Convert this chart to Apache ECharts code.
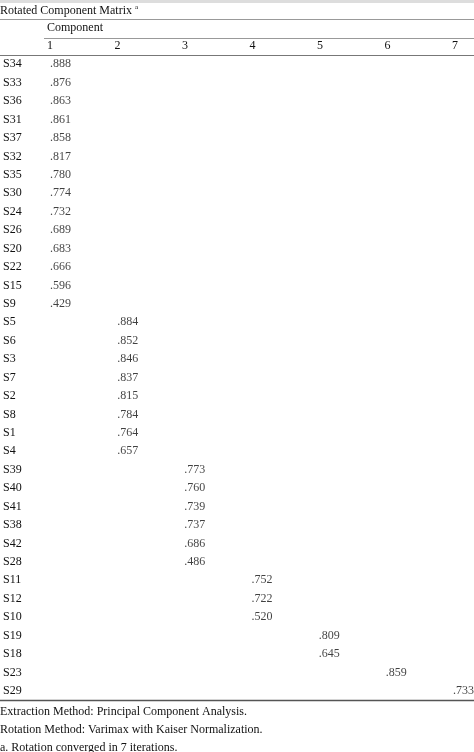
<!DOCTYPE html><html><head><meta charset="utf-8">
<script src="https://cdn.jsdelivr.net/npm/echarts@6/dist/echarts.min.js"></script>
<style>html,body{margin:0;padding:0;background:#fff}#c{width:474px;height:752px}</style></head><body><div id="c"></div>
<script>
const rows = ['S34','S33','S36','S31','S37','S32','S35','S30','S24','S26','S20','S22','S15','S9',
 'S5','S6','S3','S7','S2','S8','S1','S4',
 'S39','S40','S41','S38','S42','S28',
 'S11','S12','S10','S19','S18','S23','S29'];
const component = [1,1,1,1,1,1,1,1,1,1,1,1,1,1, 2,2,2,2,2,2,2,2, 3,3,3,3,3,3, 4,4,4, 5,5, 6, 7];
const loadings = ['.888','.876','.863','.861','.858','.817','.780','.774','.732','.689','.683','.666','.596','.429',
 '.884','.852','.846','.837','.815','.784','.764','.657',
 '.773','.760','.739','.737','.686','.486',
 '.752','.722','.520','.809','.645','.859','.733'];
const headers = ['1','2','3','4','5','6','7'];
const F = 'Liberation Serif';
const data = rows.map((r,i)=>[component[i]-1, r, loadings[i]]);
const chart = echarts.init(document.getElementById('c'));
const txt=(x,y,t,sz)=>({type:'text',left:x,top:y,style:{text:t,font:(sz||12)+'px "'+F+'"',fill:'#111'}});
const ln=(x1,y,x2,c,w)=>({type:'line',shape:{x1:x1,y1:y,x2:x2,y2:y},style:{stroke:c||'#777',lineWidth:w||1}});
const g=[
  {type:'rect',shape:{x:0,y:0,width:474,height:3},style:{fill:'#ddd'}},
  txt(0,5,'Rotated Component Matrix'),
  {type:'text',left:135,top:4,style:{text:'a',font:'7px "'+F+'"',fill:'#111'}},
  ln(0,19.5,474,'#999'),
  txt(47,22,'Component'),
  ln(44,38.5,474,'#999'),
  ln(0,55.5,474,'#777'),
  ln(0,700.5,474,'#555',1.5),
  txt(0,706,'Extraction Method: Principal Component Analysis.'),
  txt(0,724,'Rotation Method: Varimax with Kaiser Normalization.'),
  txt(0,742,'a. Rotation converged in 7 iterations.')
];
headers.forEach((h,i)=>g.push(txt(47+i*67.5,40,h)));
chart.setOption({
  animation:false,
  grid:{left:47,right:474-(47+6*67.5)-1,top:55,bottom:52},
  xAxis:{type:'value',min:0,max:6,show:false},
  yAxis:{type:'category',data:rows,inverse:true,axisLine:{show:false},axisTick:{show:false},
    axisLabel:{align:'left',margin:47,fontFamily:F,fontSize:12,color:'#111'}},
  series:[{type:'scatter',data:data,symbolSize:0,encode:{x:0,y:1},
    label:{show:true,position:'right',distance:0,formatter:p=>p.value[2],fontFamily:F,fontSize:12,color:'#111'}}],
  graphic:g
});
</script></body></html>
